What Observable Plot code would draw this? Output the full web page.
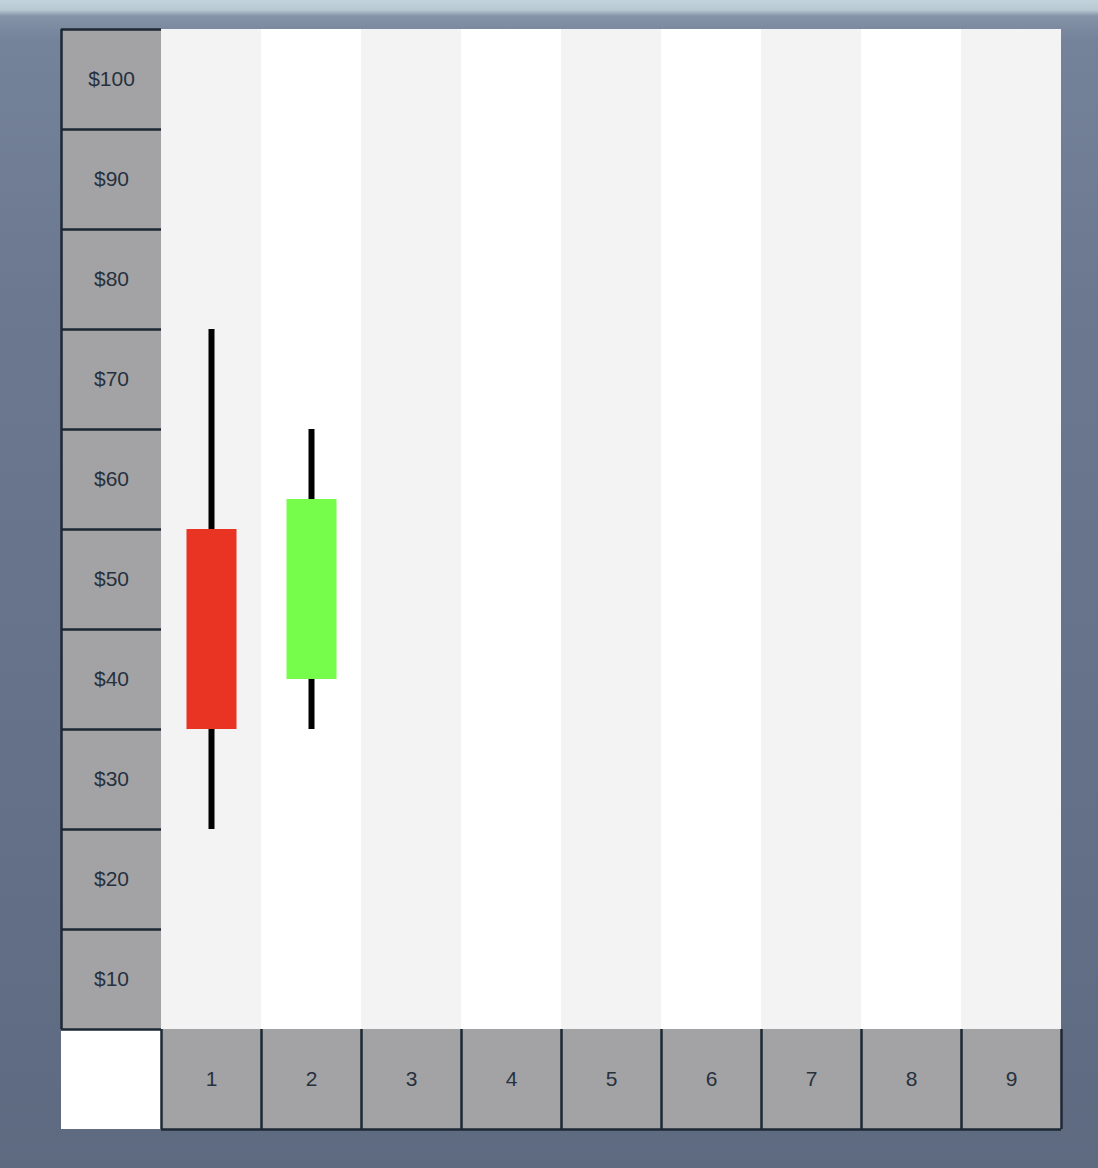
<!DOCTYPE html>
<html>
<head>
<meta charset="utf-8">
<script src="https://cdn.jsdelivr.net/npm/d3@7"></script>
<script src="https://cdn.jsdelivr.net/npm/@observablehq/plot@0.6"></script>
<style>
  html, body { margin: 0; padding: 0; }
  body {
    width: 1098px; height: 1168px; overflow: hidden;
    background: linear-gradient(to bottom, #c3d3dc 0px, #b7c8d2 10px, #8593a8 16px, #74829a 40px, #6b7890 300px, #66728a 700px, #5e6a80 1168px);
  }
  #chart svg { display: block; }
</style>
</head>
<body>
<div id="chart"></div>
<script>
// Categories (columns) and price tick labels
const days = [1, 2, 3, 4, 5, 6, 7, 8, 9];
const priceTicks = [100, 90, 80, 70, 60, 50, 40, 30, 20, 10];

// Candlestick series
const candleDays = [1, 2];
const openValues = [55, 40];
const closeValues = [35, 58];
const highValues = [75, 65];
const lowValues = [25, 35];

const candles = candleDays.map((d, i) => ({
  day: d, open: openValues[i], close: closeValues[i], high: highValues[i], low: lowValues[i]
}));

const border = "#1d2834";
const cellFill = "#a3a3a5";
const textFill = "#27313d";

const plot = Plot.plot({
  width: 1098,
  height: 1168,
  marginLeft: 161,
  marginRight: 37,
  marginTop: 29,
  marginBottom: 139,
  x: { type: "linear", domain: [0.5, 9.5], axis: null },
  y: { type: "linear", domain: [5, 105], axis: null },
  style: { background: "transparent", fontFamily: "'Liberation Sans', Arial, sans-serif", overflow: "visible" },
  marks: [
    // alternating column stripes
    Plot.rect(days, {
      x1: d => d - 0.5, x2: d => d + 0.5, y1: 5, y2: 105,
      fill: d => (d % 2 === 1 ? "#f3f3f3" : "#ffffff")
    }),
    // left price cells
    Plot.rect(priceTicks, {
      x1: -0.5, x2: 0.5, y1: d => d - 5, y2: d => d + 5, fill: cellFill
    }),
    // bottom-left white corner cell
    Plot.rect([0], { x1: -0.5, x2: 0.5, y1: -5, y2: 5, fill: "#ffffff" }),
    // bottom day cells
    Plot.rect(days, {
      x1: d => d - 0.5, x2: d => d + 0.5, y1: -5, y2: 5, fill: cellFill
    }),
    // left column borders
    Plot.ruleX([-0.5], { y1: 5, y2: 105, stroke: border, strokeWidth: 2.5 }),
    Plot.ruleY([...priceTicks.map(d => d + 5), 5], { x1: -0.5, x2: 0.5, stroke: border, strokeWidth: 2.5 }),
    // bottom row borders
    Plot.ruleX([0.5, ...days.map(d => d + 0.5)], { y1: -5, y2: 5, stroke: border, strokeWidth: 2.5 }),
    Plot.ruleY([-5], { x1: 0.5, x2: 9.5, stroke: border, strokeWidth: 2.5 }),
    // labels
    Plot.text(priceTicks, {
      x: 0, y: d => d, text: d => `$${d}`, fill: textFill, fontSize: 21, textAnchor: "middle"
    }),
    Plot.text(days, {
      x: d => d, y: 0, text: d => String(d), fill: textFill, fontSize: 21, textAnchor: "middle"
    }),
    // wicks
    Plot.ruleX(candles, { x: "day", y1: "low", y2: "high", stroke: "#000000", strokeWidth: 6 }),
    // bodies
    Plot.ruleX(candles, {
      x: "day", y1: "open", y2: "close", strokeWidth: 50,
      stroke: d => (d.close >= d.open ? "#76fc4b" : "#e93424")
    })
  ]
});
document.getElementById("chart").append(plot);
</script>
</body>
</html>
